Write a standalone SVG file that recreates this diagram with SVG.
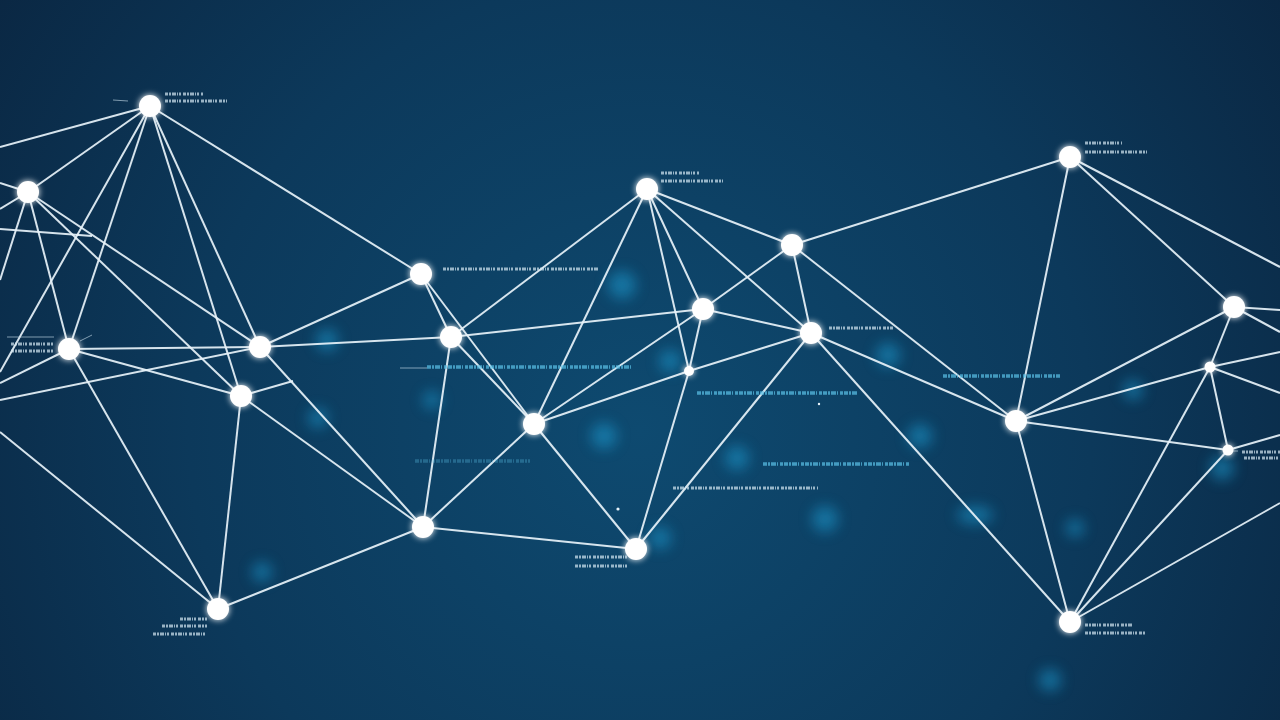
<svg xmlns="http://www.w3.org/2000/svg" width="1280" height="720" viewBox="0 0 1280 720">
<defs>
<radialGradient id="bg" cx="640" cy="430" r="820" gradientUnits="userSpaceOnUse">
<stop offset="0" stop-color="#0e4a70"/>
<stop offset="0.55" stop-color="#0c395b"/>
<stop offset="1" stop-color="#0a2540"/>
</radialGradient>
<filter id="glow" x="-100%" y="-100%" width="300%" height="300%">
<feGaussianBlur stdDeviation="3" result="b"/>
<feMerge><feMergeNode in="b"/><feMergeNode in="SourceGraphic"/></feMerge>
</filter>
<filter id="blur" x="-100%" y="-100%" width="300%" height="300%">
<feGaussianBlur stdDeviation="7"/>
</filter>
</defs>
<style>
.e{stroke:#e8f3fa;stroke-width:2;opacity:0.92;fill:none}
.n{fill:#ffffff;filter:url(#glow)}
.lb{stroke:#d6e9f4;stroke-width:3;stroke-dasharray:3 1 2 1 4 1 1 1 2 2;opacity:0.7}
.lc{stroke:#5cc2e8;stroke-width:3.5;stroke-dasharray:4 1 2 1 5 1 1 2 3 1;opacity:0.7}
.tk{stroke:#cfe4f0;stroke-width:1;opacity:0.6}
.g{fill:#1f9bd0;filter:url(#blur)}
</style>
<rect width="1280" height="720" fill="url(#bg)"/>
<g id="glows" opacity="0.55">
<circle class="g" cx="622" cy="285" r="14"/>
<circle class="g" cx="327" cy="340" r="11"/>
<circle class="g" cx="604" cy="436" r="13"/>
<circle class="g" cx="737" cy="458" r="12"/>
<circle class="g" cx="670" cy="361" r="11"/>
<circle class="g" cx="888" cy="355" r="12"/>
<circle class="g" cx="920" cy="436" r="12"/>
<circle class="g" cx="825" cy="519" r="13"/>
<circle class="g" cx="660" cy="538" r="11"/>
<ellipse class="g" cx="975" cy="515" rx="18" ry="9"/>
<circle class="g" cx="1075" cy="528" r="9"/>
<circle class="g" cx="1050" cy="680" r="11"/>
<circle class="g" cx="1133" cy="390" r="10"/>
<circle class="g" cx="1222" cy="468" r="12"/>
<circle class="g" cx="318" cy="418" r="10"/>
<circle class="g" cx="262" cy="572" r="10"/>
<circle class="g" cx="432" cy="400" r="9"/>
</g>
<g id="connectors">
<line class="e" x1="0" y1="147" x2="150" y2="106"/>
<line class="e" x1="0" y1="183" x2="28" y2="192"/>
<line class="e" x1="0" y1="209" x2="28" y2="192"/>
<line class="e" x1="0" y1="280" x2="28" y2="192"/>
<line class="e" x1="0" y1="229" x2="92" y2="236"/>
<line class="e" x1="0" y1="372" x2="150" y2="106"/>
<line class="e" x1="0" y1="383" x2="69" y2="349"/>
<line class="e" x1="0" y1="400" x2="260" y2="347"/>
<line class="e" x1="0" y1="432" x2="218" y2="609"/>
<line class="e" x1="150" y1="106" x2="28" y2="192"/>
<line class="e" x1="150" y1="106" x2="69" y2="349"/>
<line class="e" x1="150" y1="106" x2="260" y2="347"/>
<line class="e" x1="150" y1="106" x2="241" y2="396"/>
<line class="e" x1="150" y1="106" x2="421" y2="274"/>
<line class="e" x1="28" y1="192" x2="69" y2="349"/>
<line class="e" x1="28" y1="192" x2="260" y2="347"/>
<line class="e" x1="28" y1="192" x2="241" y2="396"/>
<line class="e" x1="69" y1="349" x2="260" y2="347"/>
<line class="e" x1="69" y1="349" x2="241" y2="396"/>
<line class="e" x1="69" y1="349" x2="218" y2="609"/>
<line class="e" x1="260" y1="347" x2="421" y2="274"/>
<line class="e" x1="260" y1="347" x2="451" y2="337"/>
<line class="e" x1="260" y1="347" x2="423" y2="527"/>
<line class="e" x1="241" y1="396" x2="293" y2="381"/>
<line class="e" x1="241" y1="396" x2="423" y2="527"/>
<line class="e" x1="241" y1="396" x2="218" y2="609"/>
<line class="e" x1="421" y1="274" x2="451" y2="337"/>
<line class="e" x1="421" y1="274" x2="534" y2="424"/>
<line class="e" x1="451" y1="337" x2="534" y2="424"/>
<line class="e" x1="451" y1="337" x2="423" y2="527"/>
<line class="e" x1="451" y1="337" x2="647" y2="189"/>
<line class="e" x1="451" y1="337" x2="703" y2="309"/>
<line class="e" x1="534" y1="424" x2="423" y2="527"/>
<line class="e" x1="534" y1="424" x2="647" y2="189"/>
<line class="e" x1="534" y1="424" x2="703" y2="309"/>
<line class="e" x1="534" y1="424" x2="689" y2="371"/>
<line class="e" x1="534" y1="424" x2="636" y2="549"/>
<line class="e" x1="423" y1="527" x2="218" y2="609"/>
<line class="e" x1="423" y1="527" x2="636" y2="549"/>
<line class="e" x1="647" y1="189" x2="703" y2="309"/>
<line class="e" x1="647" y1="189" x2="792" y2="245"/>
<line class="e" x1="647" y1="189" x2="811" y2="333"/>
<line class="e" x1="647" y1="189" x2="689" y2="371"/>
<line class="e" x1="703" y1="309" x2="792" y2="245"/>
<line class="e" x1="703" y1="309" x2="811" y2="333"/>
<line class="e" x1="703" y1="309" x2="689" y2="371"/>
<line class="e" x1="792" y1="245" x2="811" y2="333"/>
<line class="e" x1="792" y1="245" x2="1070" y2="157"/>
<line class="e" x1="792" y1="245" x2="1016" y2="421"/>
<line class="e" x1="811" y1="333" x2="689" y2="371"/>
<line class="e" x1="811" y1="333" x2="636" y2="549"/>
<line class="e" x1="811" y1="333" x2="1016" y2="421"/>
<line class="e" x1="811" y1="333" x2="1070" y2="622"/>
<line class="e" x1="689" y1="371" x2="636" y2="549"/>
<line class="e" x1="1070" y1="157" x2="1016" y2="421"/>
<line class="e" x1="1070" y1="157" x2="1234" y2="307"/>
<line class="e" x1="1070" y1="157" x2="1280" y2="267"/>
<line class="e" x1="1016" y1="421" x2="1234" y2="307"/>
<line class="e" x1="1016" y1="421" x2="1210" y2="367"/>
<line class="e" x1="1016" y1="421" x2="1228" y2="450"/>
<line class="e" x1="1016" y1="421" x2="1070" y2="622"/>
<line class="e" x1="1234" y1="307" x2="1210" y2="367"/>
<line class="e" x1="1234" y1="307" x2="1280" y2="310"/>
<line class="e" x1="1234" y1="307" x2="1280" y2="332"/>
<line class="e" x1="1210" y1="367" x2="1228" y2="450"/>
<line class="e" x1="1210" y1="367" x2="1070" y2="622"/>
<line class="e" x1="1210" y1="367" x2="1280" y2="352"/>
<line class="e" x1="1210" y1="367" x2="1280" y2="393"/>
<line class="e" x1="1228" y1="450" x2="1070" y2="622"/>
<line class="e" x1="1228" y1="450" x2="1280" y2="435"/>
<line class="e" x1="1070" y1="622" x2="1280" y2="503"/>
<line class="tk" x1="113" y1="100" x2="128" y2="101"/>
<line class="tk" x1="7" y1="337" x2="54" y2="337"/>
<line class="tk" x1="80" y1="341" x2="92" y2="335"/>
<line class="tk" x1="400" y1="368" x2="427" y2="368"/>
<line class="tk" x1="1233" y1="451" x2="1238" y2="451"/>
</g>
<g id="free-labels">
<line class="lc" x1="427" y1="367" x2="633" y2="367"/>
<line class="lc" x1="697" y1="393" x2="858" y2="393"/>
<line class="lc" x1="763" y1="464" x2="910" y2="464"/>
<line class="lb" x1="673" y1="488" x2="818" y2="488"/>
<line class="lc" x1="943" y1="376" x2="1060" y2="376"/>
<line class="lc" x1="415" y1="461" x2="530" y2="461" style="opacity:0.3"/>
<circle cx="618" cy="509" r="1.6" fill="#e8f3fa"/>
<circle cx="819" cy="404" r="1.2" fill="#e8f3fa"/>
</g>
<g id="node-A"><circle class="n" cx="150" cy="106" r="11"/><line class="lb" x1="165" y1="94" x2="203" y2="94"/><line class="lb" x1="165" y1="101" x2="227" y2="101"/></g>
<g id="node-B"><circle class="n" cx="28" cy="192" r="11"/></g>
<g id="node-C"><circle class="n" cx="69" cy="349" r="11"/><line class="lb" x1="11" y1="344" x2="53" y2="344"/><line class="lb" x1="11" y1="351" x2="53" y2="351"/></g>
<g id="node-D"><circle class="n" cx="260" cy="347" r="11"/></g>
<g id="node-E"><circle class="n" cx="241" cy="396" r="11"/></g>
<g id="node-F"><circle class="n" cx="421" cy="274" r="11"/><line class="lb" x1="443" y1="269" x2="598" y2="269"/></g>
<g id="node-G"><circle class="n" cx="451" cy="337" r="11"/></g>
<g id="node-H"><circle class="n" cx="534" cy="424" r="11"/></g>
<g id="node-I"><circle class="n" cx="423" cy="527" r="11"/></g>
<g id="node-J"><circle class="n" cx="218" cy="609" r="11"/><line class="lb" x1="180" y1="619" x2="207" y2="619"/><line class="lb" x1="162" y1="626" x2="207" y2="626"/><line class="lb" x1="153" y1="634" x2="207" y2="634"/></g>
<g id="node-K"><circle class="n" cx="647" cy="189" r="11"/><line class="lb" x1="661" y1="173" x2="699" y2="173"/><line class="lb" x1="661" y1="181" x2="723" y2="181"/></g>
<g id="node-L"><circle class="n" cx="703" cy="309" r="11"/></g>
<g id="node-M"><circle class="n" cx="792" cy="245" r="11"/></g>
<g id="node-N"><circle class="n" cx="811" cy="333" r="11"/><line class="lb" x1="829" y1="328" x2="893" y2="328"/></g>
<g id="node-O"><circle class="n" cx="689" cy="371" r="5"/></g>
<g id="node-P"><circle class="n" cx="636" cy="549" r="11"/><line class="lb" x1="575" y1="557" x2="627" y2="557"/><line class="lb" x1="575" y1="566" x2="627" y2="566"/></g>
<g id="node-Q"><circle class="n" cx="1070" cy="157" r="11"/><line class="lb" x1="1085" y1="143" x2="1122" y2="143"/><line class="lb" x1="1085" y1="152" x2="1147" y2="152"/></g>
<g id="node-R"><circle class="n" cx="1016" cy="421" r="11"/></g>
<g id="node-S"><circle class="n" cx="1234" cy="307" r="11"/></g>
<g id="node-T"><circle class="n" cx="1210" cy="367" r="5.5"/></g>
<g id="node-U"><circle class="n" cx="1228" cy="450" r="5.5"/><line class="lb" x1="1242" y1="452" x2="1280" y2="452"/><line class="lb" x1="1244" y1="458" x2="1280" y2="458"/></g>
<g id="node-V"><circle class="n" cx="1070" cy="622" r="11"/><line class="lb" x1="1085" y1="625" x2="1133" y2="625"/><line class="lb" x1="1085" y1="633" x2="1145" y2="633"/></g>
</svg>
